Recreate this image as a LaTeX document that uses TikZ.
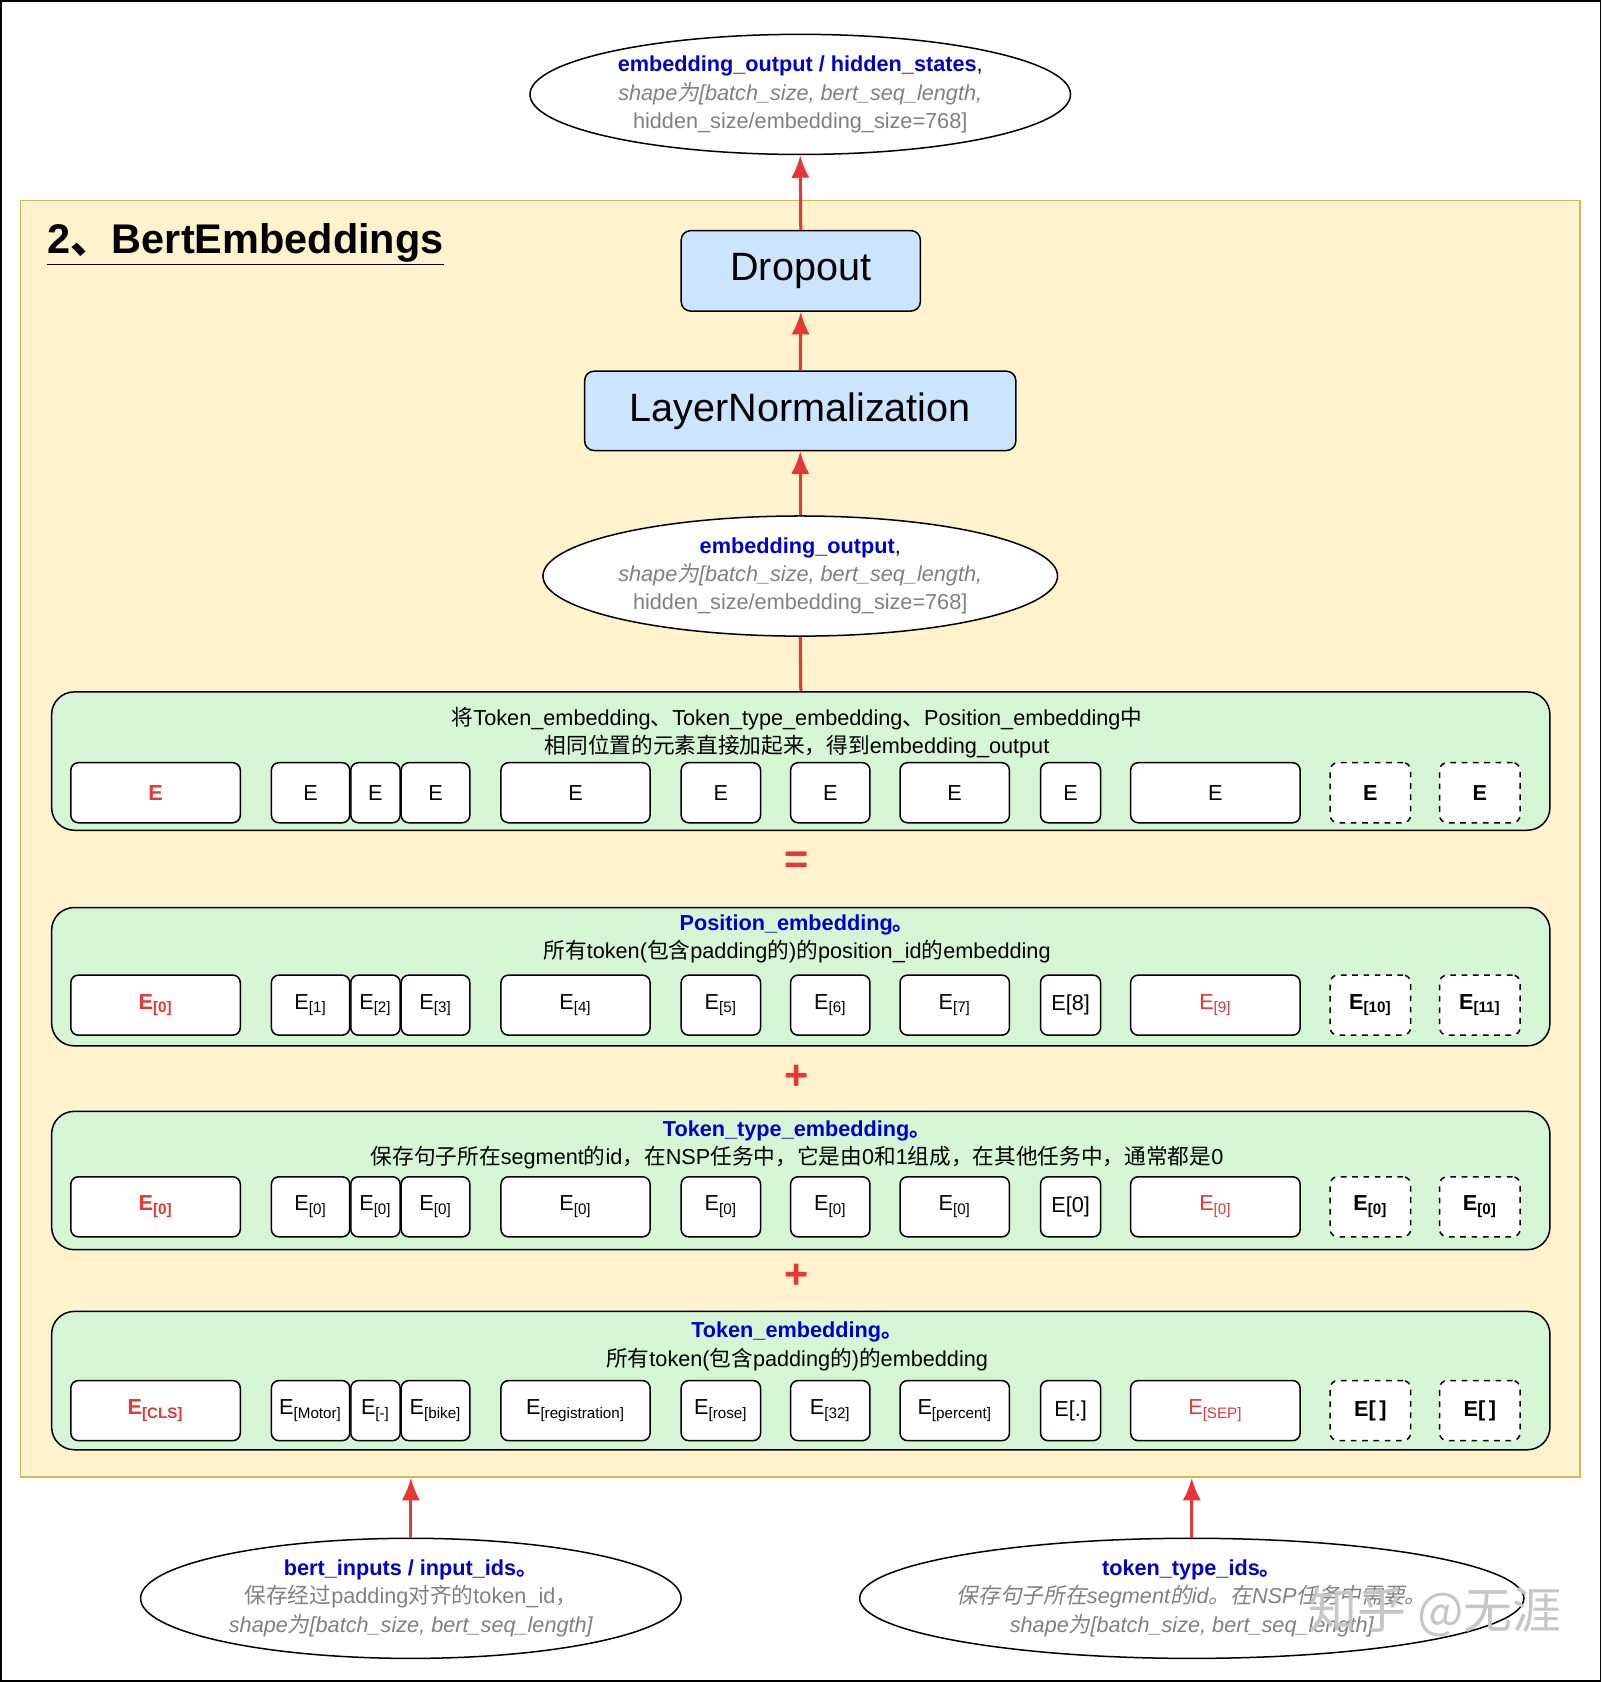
\documentclass[tikz,border=0pt]{standalone}
\usepackage{fontspec}
\setmainfont{Liberation Sans}
\newfontfamily\cjk{Noto Sans CJK SC}[ItalicFont=Noto Sans CJK SC, ItalicFeatures={FakeSlant=0.2}]
\usetikzlibrary{arrows.meta,shapes.geometric}
\newcommand{\zh}[1]{{\cjk #1}}
\newcommand{\lbl}{\fontsize{11.5}{15}\selectfont}
\newcommand{\Es}[1]{E\textsubscript{#1}}
\definecolor{panelfill}{HTML}{FFF2CC}
\definecolor{paneldraw}{HTML}{D6B656}
\definecolor{rowfill}{HTML}{D5F5D5}
\definecolor{boxblue}{HTML}{CCE5FF}
\definecolor{hdblue}{HTML}{0000CC}
\definecolor{txtgray}{HTML}{808080}
\definecolor{ered}{HTML}{E83535}
\tikzset{
  arr/.style={-{Latex[length=0.42cm,width=0.34cm]}, ered, line width=1.6pt},
  ell/.style={draw, ellipse, line width=0.8pt, fill=white, minimum width=10.08cm, minimum height=2.24cm, inner sep=0pt, align=center, font=\lbl},
  blk/.style={draw, rounded corners=5pt, fill=boxblue, line width=0.8pt, font=\fontsize{21}{24}\selectfont, inner sep=0pt},
  grp/.style={draw, rounded corners=12pt, fill=rowfill, line width=0.8pt, minimum width=27.94cm, minimum height=2.58cm, inner sep=0pt},
  ebox/.style={draw, rounded corners=4pt, fill=white, line width=0.8pt, minimum height=1.12cm, inner sep=0pt, font=\lbl},
  ebp/.style={},
  ebd/.style={dashed, font=\lbl\bfseries},
  ebr/.style={text=ered, font=\lbl\bfseries},
  ebn/.style={text=ered},
  hd/.style={font=\lbl, align=center},
  sign/.style={text=ered, font=\fontsize{22}{22}\selectfont\bfseries}
}
\newcommand{\hb}[1]{\textcolor{hdblue}{\textbf{#1}}}
\newcommand{\gi}[1]{\textcolor{txtgray}{\itshape #1}}
\newcommand{\gn}[1]{\textcolor{txtgray}{#1}}
\begin{document}
\begin{tikzpicture}[x=0.02cm,y=-0.02cm]
\useasboundingbox (0,0) rectangle (1493,1568);
\draw[line width=1pt] (1,1) rectangle (1492,1567);
%% panel
\node[draw=paneldraw, fill=panelfill, line width=0.8pt, minimum width=29.08cm, minimum height=23.8cm, inner sep=0pt] (panel) at (746,782) {};
\node[anchor=west, font=\fontsize{22}{24}\selectfont\bfseries] (title) at (38,228) {\underline{2\zh{、}BertEmbeddings}};
%% blocks
\node[blk, minimum width=4.46cm, minimum height=1.5cm] (drop) at (746.5,252.5) {Dropout};
\node[blk, minimum width=8.04cm, minimum height=1.48cm] (ln) at (746,383) {LayerNormalization};
%% ellipses
\node[ell] (top) at (746,88) {\hb{embedding\_output / hidden\_states}, \\ \gi{shape\zh{为}[batch\_size, bert\_seq\_length,} \\ \gn{hidden\_size/embedding\_size=768]}};
\node[ell, minimum width=9.52cm] (mid) at (746,537) {\hb{embedding\_output}, \\ \gi{shape\zh{为}[batch\_size, bert\_seq\_length,} \\ \gn{hidden\_size/embedding\_size=768]}};
\node[ell] (inp) at (383,1490) {\hb{bert\_inputs / input\_ids\zh{。}} \\ \gn{\zh{保存经过}padding\zh{对齐的}token\_id\zh{，}} \\ \gi{shape\zh{为}[batch\_size, bert\_seq\_length]}};
\node[ell] (tti) at (1111,1490) {\hb{token\_type\_ids\zh{。}} \\ \gi{\zh{保存句子所在}segment\zh{的}id\zh{。在}NSP\zh{任务中需要。}} \\ \gi{shape\zh{为}[batch\_size, bert\_seq\_length]}};
%% rows
\node[grp] (row1) at (746.5,709.5) {};
\node[grp] (row2) at (746.5,910.5) {};
\node[grp] (row3) at (746.5,1100.5) {};
\node[grp] (row4) at (746.5,1287) {};
\node[hd] (h1) at (743,683) {\zh{将}Token\_embedding\zh{、}Token\_type\_embedding\zh{、}Position\_embedding\zh{中} \\ \zh{相同位置的元素直接加起来，得到}embedding\_output};
\node[hd] (h2) at (743,875) {\hb{Position\_embedding\zh{。}} \\ \zh{所有}token(\zh{包含}padding\zh{的})\zh{的}position\_id\zh{的}embedding};
\node[hd] (h3) at (743,1067) {\hb{Token\_type\_embedding\zh{。}} \\ \zh{保存句子所在}segment\zh{的}id\zh{，在}NSP\zh{任务中，它是由}0\zh{和}1\zh{组成，在其他任务中，通常都是}0};
\node[hd] (h4) at (743,1255) {\hb{Token\_embedding\zh{。}} \\ \zh{所有}token(\zh{包含}padding\zh{的})\zh{的}embedding};
\def\xa{{66,253,327,374,467,635,737,839,970,1054,1240,1342}}
\def\xb{{224,326,373,438,606,709,811,941,1026,1212,1315,1417}}
\newcommand{\erow}[3]{%
  \foreach \t/\s [count=\i] in {#3} {
    \pgfmathsetmacro{\xl}{\xa[\i-1]}
    \pgfmathsetmacro{\xr}{\xb[\i-1]}
    \node[ebox, \s, minimum width={(\xr-\xl)*0.02cm}] (#1b\i) at ({(\xl+\xr)/2},#2) {\t};
  }}
\erow{r1}{739}{E/ebr, E/ebp, E/ebp, E/ebp, E/ebp, E/ebp, E/ebp, E/ebp, E/ebp, E/ebp, E/ebd, E/ebd}
\erow{r2}{937}{{\Es{[0]}}/ebr, {\Es{[1]}}/ebp, {\Es{[2]}}/ebp, {\Es{[3]}}/ebp, {\Es{[4]}}/ebp, {\Es{[5]}}/ebp, {\Es{[6]}}/ebp, {\Es{[7]}}/ebp, E[8]/ebp, {\Es{[9]}}/ebn, {\Es{[10]}}/ebd, {\Es{[11]}}/ebd}
\erow{r3}{1125}{{\Es{[0]}}/ebr, {\Es{[0]}}/ebp, {\Es{[0]}}/ebp, {\Es{[0]}}/ebp, {\Es{[0]}}/ebp, {\Es{[0]}}/ebp, {\Es{[0]}}/ebp, {\Es{[0]}}/ebp, E[0]/ebp, {\Es{[0]}}/ebn, {\Es{[0]}}/ebd, {\Es{[0]}}/ebd}
\erow{r4}{1315}{{\Es{[CLS]}}/ebr, {\Es{[Motor]}}/ebp, {\Es{[-]}}/ebp, {\Es{[bike]}}/ebp, {\Es{[registration]}}/ebp, {\Es{[rose]}}/ebp, {\Es{[32]}}/ebp, {\Es{[percent]}}/ebp, E[.]/ebp, {\Es{[SEP]}}/ebn, {E[\,]}/ebd, {E[\,]}/ebd}
%% signs
\node[sign] (eq) at (743,804) {=};
\node[sign] (p1) at (743,1004) {+};
\node[sign] (p2) at (743,1190) {+};
%% connectors
\draw[ered, line width=1.6pt] (mid.south) -- (row1.north);
\draw[arr] (mid.north) -- (ln.south);
\draw[arr] (ln.north) -- (drop.south);
\draw[arr] (drop.north) -- (top.south);
\draw[arr] (inp.north) -- (inp.north |- panel.south);
\draw[arr] (tti.north) -- (tti.north |- panel.south);
%% watermark
\node[text=gray!45, font=\fontsize{26}{26}\selectfont] (wm) at (1338,1503) {\zh{知乎 @无涯}};
\end{tikzpicture}
\end{document}
